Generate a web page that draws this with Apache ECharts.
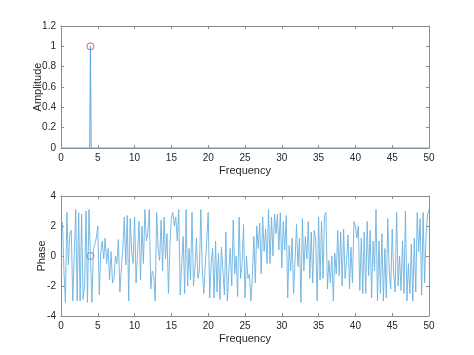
<!DOCTYPE html>
<html><head><meta charset="utf-8">
<script src="https://cdn.jsdelivr.net/npm/echarts@6/dist/echarts.min.js"></script>
<style>html,body{margin:0;padding:0;background:#fff}#c{width:474px;height:355px}</style>
</head><body><div id="c"></div>
<script>
// Amplitude spectrum
const ampFreq = [0, 3.9, 4.0, 4.1, 50];
const ampValues = [0, 0, 1, 0, 0];
const peakAmp = [[4, 1]];
// Phase spectrum (frequency step 0.2 Hz)
const phaseStep = 0.2;
const phaseValues = [
2.4,2.2,-1,-3.1,2.9,-0.6,1.5,1.7,-3.0,-3.0,3.1,-3.0,2.9,-3.0,2.8,-2.9,-2.0,3.0,-3.1,3.1,0,-3.1,0.4,0.5,1.2,
2.0,-2.6,0.2,1.0,-0.2,1.2,-0.5,0.5,-1.6,0.3,-1.8,-1.5,0.0,-0.5,1.1,-2.4,-0.8,0.5,2.6,-0.6,2.7,-3.0,2.5,0.3,-0.5,
2.6,-1.8,0.2,2.3,-1.6,2.0,-0.5,3.1,1.0,1.5,3.1,-2.2,-1.0,-1.3,-3.0,2.9,0.5,-0.3,2.4,-1.0,2.6,-0.2,1.5,-2.5,0.7,
2.6,2.9,2.0,2.6,1.0,3.1,-2.6,-0.5,1.3,-2.5,3.1,-2.0,0.5,-1.6,2.9,-2.0,-0.8,1.2,-1.5,-1.0,3.1,-1.0,-2.5,-0.6,1.0,
2.9,-2.8,-0.5,0.5,-2.8,1.0,-2.4,0.2,-2.9,0.6,-1.0,-2.6,1.6,-3.0,-1.0,0.5,-2.0,2.4,-1.2,0.0,-2.7,2.6,-1.5,-0.5,2.1,
-2.8,0.0,-1.5,-1.2,-3.0,-1.4,1.3,-1.8,2.0,0.5,2.2,-1.2,2.6,0.3,1.8,-0.5,3.1,-0.5,2.6,0.0,2.8,1.5,2.8,0.4,2.9,
-0.8,2.3,0.4,2.7,-2.8,0.7,-1.0,1.2,-2.5,-0.3,2.1,-0.7,1.2,-3.1,2.5,-1.0,1.3,-0.2,2.3,-1.5,1.6,-1.8,1.7,1.2,-3.0,
2.6,-1.6,2.3,-1.5,2.7,2.9,-2.2,-0.3,-1.8,0.0,-3.0,0.2,-1.2,1.7,-1.3,1.6,-2.0,1.8,-1.5,-0.3,1.4,-2.2,0.6,-1.8,2.3,
2.0,1.2,2.0,-2.3,1.2,-2.5,1.6,-2.5,2.3,-1.3,1.7,-2.8,1.0,-1.0,3.1,-3.0,1.0,-2.5,1.5,-3.0,0.5,-2.8,2.5,-1.0,-2.2,
1.8,-1.2,-2.4,2.9,-2.0,0.0,-2.3,1.0,-2.5,3.0,-3.0,-0.5,-2.5,0.8,-3.0,1.2,-2.4,2.9,0.3,2.5,-2.6,2.9,-1.8,1.3,2.8,
3.1
];
const peakPhase = [[4, 0]];
const xTicks = [0,5,10,15,20,25,30,35,40,45,50];

const phaseData = phaseValues.map((v,i)=>[+(i*phaseStep).toFixed(2), v]);
const ampData = ampFreq.map((f,i)=>[f, ampValues[i]]);

const boxColor = '#8c8c8c';
const txt = '#262626';
const font = 'Liberation Sans, Arial, sans-serif';
function xAx(gi, bottom){
  return {type:'value', gridIndex:gi, position: bottom?'bottom':'top', min:0, max:50, interval:5,
    axisLine:{show:true, onZero:false, lineStyle:{color:boxColor, width:1}},
    axisTick:{show:true, inside:true, length:3, lineStyle:{color:boxColor}},
    axisLabel:{show:bottom, color:txt, fontSize:10, fontFamily:font, margin:5},
    splitLine:{show:false},
    name: bottom?'Frequency':'', nameLocation:'middle', nameGap:17, nameMoveOverlap:false,
    nameTextStyle:{color:txt, fontSize:11, fontFamily:font}};
}
function yAx(gi, left, min, max, interval, name, gap){
  return {type:'value', gridIndex:gi, position: left?'left':'right', min:min, max:max, interval:interval,
    axisLine:{show:true, onZero:false, lineStyle:{color:boxColor, width:1}},
    axisTick:{show:true, inside:true, length:3, lineStyle:{color:boxColor}},
    axisLabel:{show:left, color:txt, fontSize:10, fontFamily:font, margin:5},
    splitLine:{show:false},
    name: left?name:'', nameLocation:'middle', nameGap:gap, nameMoveOverlap:false,
    nameTextStyle:{color:txt, fontSize:11, fontFamily:font}};
}
const chart = echarts.init(document.getElementById('c'), null, {renderer:'canvas'});
chart.setOption({
  animation:false,
  backgroundColor:'#fff',
  grid:[
    {left:61, right:45, top:26, height:122},
    {left:61, right:45, top:196, height:120}
  ],
  xAxis:[xAx(0,true), xAx(0,false), xAx(1,true), xAx(1,false)],
  yAxis:[yAx(0,true,0,1.2,0.2,'Amplitude',18), yAx(0,false,0,1.2,0.2,'',0),
         yAx(1,true,-4,4,2,'Phase',14), yAx(1,false,-4,4,2,'',0)],
  series:[
    {type:'line', xAxisIndex:0, yAxisIndex:0, data:ampData, showSymbol:false, symbol:'none',
      lineStyle:{color:'#5aa7dc', width:1}},
    {type:'scatter', xAxisIndex:0, yAxisIndex:0, data:peakAmp, symbol:'circle', symbolSize:7,
      itemStyle:{color:'rgba(0,0,0,0)', borderColor:'#e0303a', borderWidth:1}},
    {type:'line', xAxisIndex:2, yAxisIndex:2, data:phaseData, showSymbol:false, symbol:'none',
      lineStyle:{color:'#6cb1e0', width:0.9}},
    {type:'scatter', xAxisIndex:2, yAxisIndex:2, data:peakPhase, symbol:'circle', symbolSize:7,
      itemStyle:{color:'rgba(0,0,0,0)', borderColor:'#e0303a', borderWidth:1}}
  ]
});
</script></body></html>
